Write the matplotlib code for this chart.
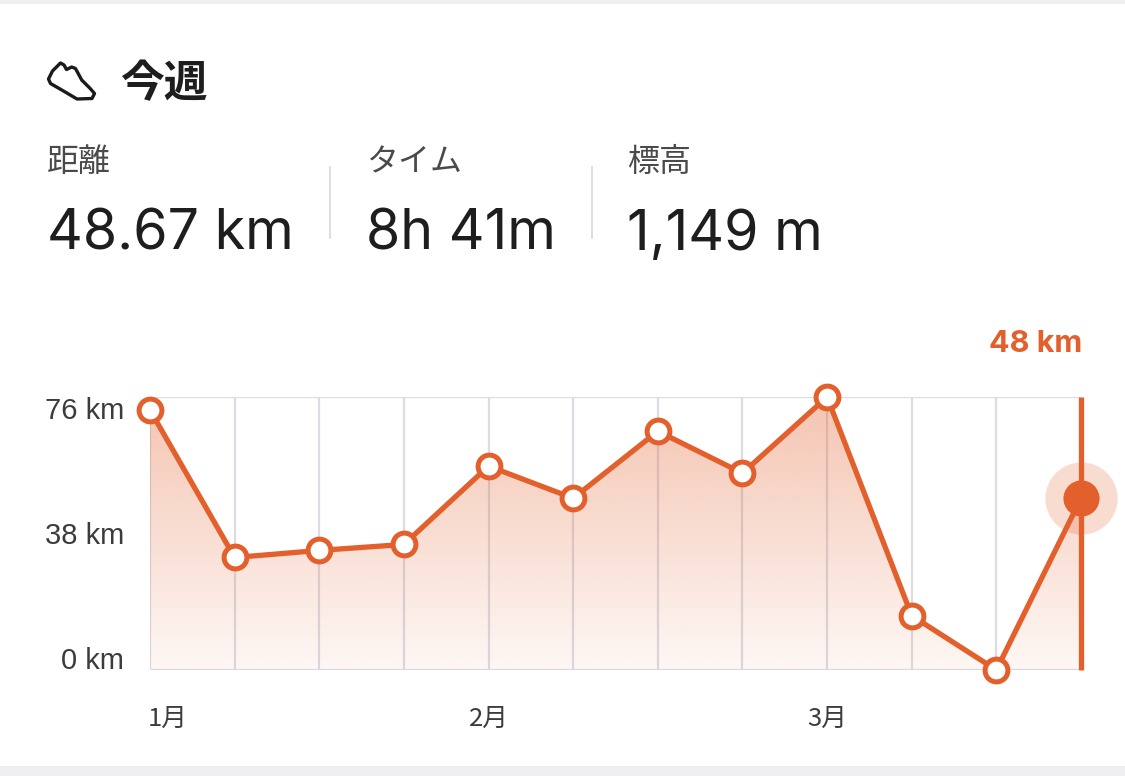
import numpy as np
import matplotlib
matplotlib.use("Agg")
import matplotlib.pyplot as plt
from matplotlib.patches import Polygon, PathPatch
from matplotlib.path import Path
from matplotlib.colors import LinearSegmentedColormap, to_rgb

# ---- data ----
weeks = list(range(12))
distance_km = [73.7, 31.9, 33.9, 35.6, 57.8, 48.7, 67.7, 55.8, 77.4, 15.4, 0.0, 48.67]
ytick_values = [0, 38, 76]
ytick_labels = ["0 km", "38 km", "76 km"]
month_positions = [0, 4, 8]
month_labels = ["1月", "2月", "3月"]
title = "今週"
stat_labels = ["距離", "タイム", "標高"]
stat_values = ["48.67 km", "8h 41m", "1,149 m"]

ORANGE = "#e3602c"
GRID = "#dcdce6"
W, H = 1125, 776
CJK = ["Noto Sans CJK JP", "DejaVu Sans"]
LAT = ["Liberation Sans", "DejaVu Sans"]
BIG = ["Inter", "DejaVu Sans"]

fig = plt.figure(figsize=(W / 100, H / 100), dpi=100)
fig.patch.set_facecolor("white")

def fx(px):
    return px / W

def fy(py):
    return 1 - py / H

# background bands
fig.patches.append(plt.Rectangle((0, fy(4)), 1, 4 / H, transform=fig.transFigure,
                                 facecolor="#efeff2", edgecolor="none"))
fig.patches.append(plt.Rectangle((0, 0), 1, (H - 766) / H, transform=fig.transFigure,
                                 facecolor="#efeff2", edgecolor="none"))

# shoe icon
shoe_px = [(48.5, 79), (52.5, 71), (60.5, 63), (64, 65), (66.5, 69.5), (71.7, 67),
           (75.5, 68.5), (81.7, 80), (90, 88.3), (94.5, 93.5), (92, 98.5), (77, 99),
           (63.5, 91), (50.5, 83.5), (48.5, 79)]
verts = [(fx(x), fy(y)) for x, y in shoe_px]
codes = [Path.MOVETO] + [Path.LINETO] * (len(verts) - 2) + [Path.CLOSEPOLY]
fig.patches.append(PathPatch(Path(verts, codes), transform=fig.transFigure,
                             facecolor="none", edgecolor="#1a1a1a", lw=2.4,
                             joinstyle="round"))

# header texts
fig.text(fx(121), fy(84), title, fontsize=31.5, fontweight="bold", family=CJK,
         color="#1e1e1e", ha="left", va="center")
stat_x = [48, 367, 628]
for x, lab, val in zip(stat_x, stat_labels, stat_values):
    fig.text(fx(x - 1), fy(162), lab, fontsize=23, family=CJK, color="#4a4a4a",
             ha="left", va="center")
    fig.text(fx(x - 1), fy(250), val, fontsize=40, family=BIG, color="#1e1e1e",
             ha="left", va="baseline")
for sx in [330, 592]:
    fig.add_artist(plt.Line2D([fx(sx), fx(sx)], [fy(167), fy(238)],
                              transform=fig.transFigure, color="#d8d8d8", lw=1.2))

# ---- chart ----
ax = fig.add_axes([fx(150), fy(670), fx(1081) - fx(150), (670 - 397) / H])
ymax = max(distance_km)
ax.set_xlim(weeks[0], weeks[-1])
ax.set_ylim(0, ymax)
for s in ax.spines.values():
    s.set_visible(False)
ax.set_xticks([])
ax.set_yticks([])
ax.patch.set_alpha(0)

for w in weeks[:-1]:
    ax.axvline(w, color=GRID, lw=1.6, zorder=1)
ax.axhline(ymax, color=GRID, lw=1.6, zorder=1)
ax.axhline(0, color=GRID, lw=1.6, zorder=1)

# gradient fill under line
poly = Polygon([(weeks[0], 0)] + list(zip(weeks, distance_km)) + [(weeks[-1], 0)],
               closed=True, facecolor="none", edgecolor="none")
ax.add_patch(poly)
r, g, b = to_rgb(ORANGE)
cmap = LinearSegmentedColormap.from_list("grad", [(r, g, b, 0.05), (r, g, b, 0.37)])
grad = np.linspace(0, 1, 256).reshape(-1, 1)
im = ax.imshow(grad, extent=[weeks[0], weeks[-1], 0, ymax], origin="lower",
               aspect="auto", cmap=cmap, zorder=2)
im.set_clip_path(poly)

# current week vertical line
ax.plot([weeks[-1], weeks[-1]], [0, ymax], color=ORANGE, lw=3.8, zorder=3,
        solid_capstyle="butt", clip_on=False)

ax.plot(weeks, distance_km, color=ORANGE, lw=3.8, zorder=4, clip_on=False,
        solid_joinstyle="round")
ax.plot(weeks[:-1], distance_km[:-1], "o", ms=16.4, mfc="white", mec=ORANGE, mew=3.6,
        zorder=5, clip_on=False)
ax.plot([weeks[-1]], [distance_km[-1]], "o", ms=52, mfc=ORANGE, mec="none", alpha=0.22,
        zorder=3.5, clip_on=False)
ax.plot([weeks[-1]], [distance_km[-1]], "o", ms=26, mfc=ORANGE, mec="none",
        zorder=6, clip_on=False)

# current value label
ax.annotate(f"{int(distance_km[-1])} km", xy=(weeks[-1], ymax), xycoords="data",
            xytext=(1, 53), textcoords="offset pixels", ha="right", va="center",
            fontsize=22, fontweight="bold", family=BIG, color=ORANGE,
            annotation_clip=False)

# y labels (kept inside the chart band)
label_shift = [9, 0, -9]
for v, lab, dy in zip(ytick_values, ytick_labels, label_shift):
    ax.annotate(lab, xy=(0, v), xycoords=("axes fraction", "data"),
                xytext=(-26, dy), textcoords="offset pixels", ha="right", va="center",
                fontsize=21, family=LAT, color="#3c3c3c", annotation_clip=False)

# month labels
for i, (p, lab) in enumerate(zip(month_positions, month_labels)):
    ax.annotate(lab, xy=(p, 0), xycoords="data", xytext=(-2 if i == 0 else 0, -49),
                textcoords="offset pixels", ha="left" if i == 0 else "center",
                va="center", fontsize=18.5, family=CJK, color="#3c3c3c",
                annotation_clip=False)

fig.savefig("out.png", dpi=100, facecolor="white")
